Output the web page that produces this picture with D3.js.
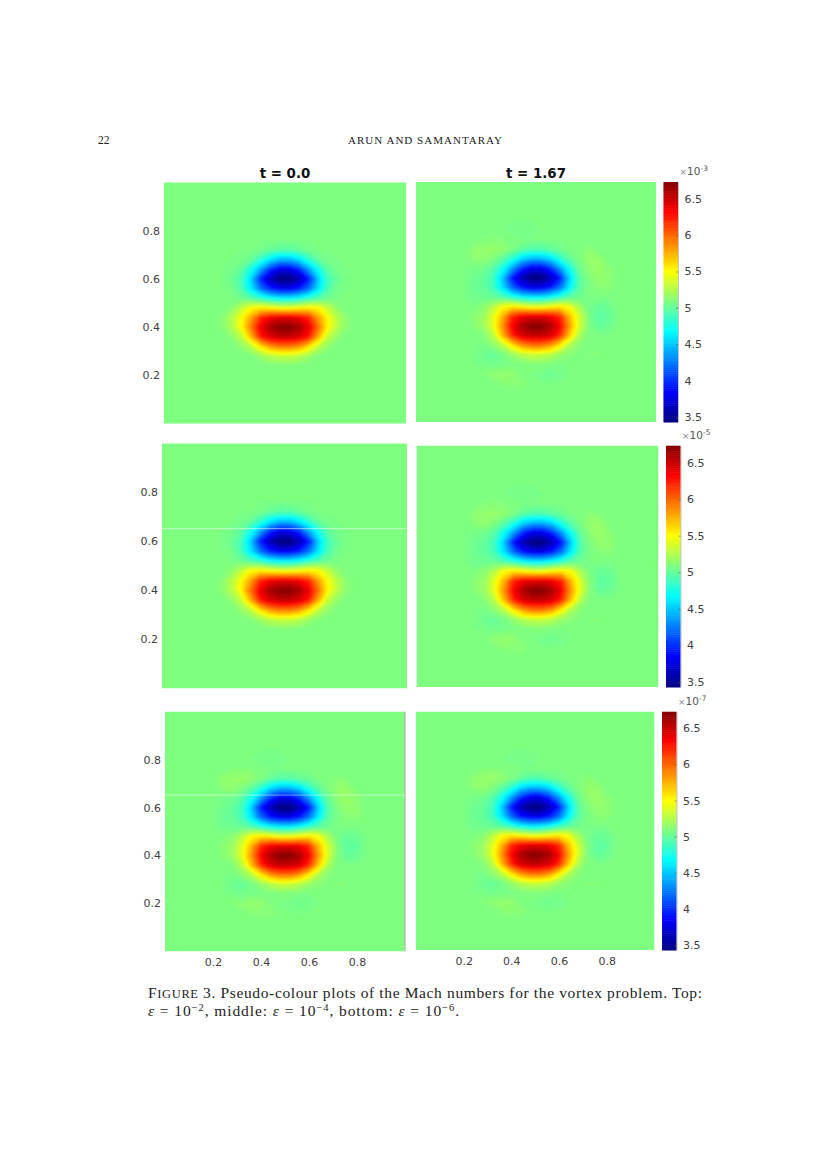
<!DOCTYPE html>
<html>
<head>
<meta charset="utf-8">
<script src="https://cdn.jsdelivr.net/npm/d3@7"></script>
<style>
  html, body { margin: 0; padding: 0; background: #fff; }
  svg { display: block; }
  .tick text { font-family: "DejaVu Sans"; font-size: 11px; fill: #404040; }
  .serif { font-family: "Liberation Serif"; fill: #222; }
</style>
</head>
<body>
<svg id="page" width="827" height="1169"></svg>
<script>
// values, mantissa of the Mach number
const g = 5.08
const gridU = [.16, .20, .24, .28, .32, .36, .40, .44, .48, .52, .56, .60, .64, .68, .72, .76, .80, .84]
const gridV = [.84, .80, .76, .72, .68, .64, .60, .56, .52, .48, .44, .40, .36, .32, .28, .24, .20, .16, .12]

const machInitial = [
  [g, g, g, g, g, g, g, g, g, g, g, g, g, g, g, g, g, g],
  [g, g, g, g, g, g, g, g, g, g, g, g, g, g, g, g, g, g],
  [g, g, g, g, g, g, g, g, g, g, g, g, g, g, g, g, g, g],
  [g, g, g, g, g, g, 5.06, 5.01, 4.96, 4.96, 5.01, 5.06, g, g, g, g, g, g],
  [g, g, g, g, 5.07, 5.01, 4.83, 4.6, 4.45, 4.45, 4.6, 4.83, 5.01, 5.07, g, g, g, g],
  [g, g, g, 5.06, 4.99, 4.75, 4.4, 4.0, 3.78, 3.78, 4.0, 4.4, 4.75, 4.99, 5.06, g, g, g],
  [g, g, g, 5.03, 4.92, 4.55, 3.96, 3.62, 3.43, 3.43, 3.62, 3.96, 4.55, 4.92, 5.03, g, g, g],
  [g, g, g, 5.06, 4.93, 4.62, 4.22, 3.95, 3.82, 3.82, 3.95, 4.22, 4.62, 4.93, 5.06, g, g, g],
  [g, g, g, g, 5.04, 4.95, 4.85, 4.72, 4.65, 4.65, 4.72, 4.85, 4.95, 5.04, g, g, g, g],
  [g, g, g, 5.14, 5.3, 5.5, 5.55, 5.5, 5.45, 5.45, 5.5, 5.55, 5.5, 5.3, 5.14, g, g, g],
  [g, g, 5.12, 5.25, 5.48, 5.8, 6.2, 6.36, 6.42, 6.42, 6.36, 6.2, 5.8, 5.48, 5.25, 5.12, g, g],
  [g, g, 5.12, 5.25, 5.5, 5.95, 6.38, 6.62, 6.73, 6.73, 6.62, 6.38, 5.95, 5.5, 5.25, 5.12, g, g],
  [g, g, g, 5.14, 5.3, 5.75, 6.25, 6.45, 6.52, 6.52, 6.45, 6.25, 5.75, 5.3, 5.14, g, g, g],
  [g, g, g, g, 5.15, 5.3, 5.6, 5.85, 5.95, 5.95, 5.85, 5.6, 5.3, 5.15, g, g, g, g],
  [g, g, g, g, g, 5.1, 5.18, 5.28, 5.32, 5.32, 5.28, 5.18, 5.1, g, g, g, g, g],
  [g, g, g, g, g, g, g, 5.09, 5.1, 5.1, 5.09, g, g, g, g, g, g, g],
  [g, g, g, g, g, g, g, g, g, g, g, g, g, g, g, g, g, g],
  [g, g, g, g, g, g, g, g, g, g, g, g, g, g, g, g, g, g],
  [g, g, g, g, g, g, g, g, g, g, g, g, g, g, g, g, g, g]
]

const machEvolved = [
  [g, g, g, g, g, g, g, g, g, g, g, g, g, g, g, g, g, g],
  [g, g, g, g, g, g, 5.07, 5.05, 5.07, g, g, g, g, g, g, g, g, g],
  [g, g, 5.09, 5.11, 5.11, 5.11, 5.09, g, g, g, g, g, g, g, g, g, g, g],
  [g, 5.09, 5.14, 5.16, 5.17, 5.15, 5.09, 5.0, 4.95, 4.95, 5.0, 5.04, g, 5.09, 5.13, 5.1, g, g],
  [g, g, 5.13, 5.15, 5.1, 4.98, 4.8, 4.56, 4.44, 4.44, 4.56, 4.8, 4.98, g, 5.16, 5.16, 5.09, g],
  [g, g, 5.06, 5.05, 4.96, 4.74, 4.38, 4.0, 3.78, 3.78, 4.0, 4.36, 4.74, 5.02, 5.14, 5.18, 5.13, 5.09],
  [g, g, 5.04, 5.01, 4.9, 4.52, 3.94, 3.62, 3.43, 3.43, 3.62, 3.94, 4.54, 4.97, 5.1, 5.16, 5.14, 5.09],
  [g, g, 5.03, 5.0, 4.9, 4.6, 4.2, 3.92, 3.8, 3.8, 3.94, 4.22, 4.65, 4.97, g, 5.12, 5.13, g],
  [g, g, 5.04, 5.03, 5.01, 4.94, 4.82, 4.7, 4.63, 4.63, 4.72, 4.85, 4.97, 5.04, g, g, g, g],
  [g, g, 5.09, 5.13, 5.27, 5.5, 5.58, 5.52, 5.45, 5.45, 5.52, 5.58, 5.48, 5.22, 5.06, 5.01, 5.03, g],
  [g, g, 5.13, 5.18, 5.4, 5.75, 6.2, 6.38, 6.42, 6.42, 6.38, 6.2, 5.72, 5.36, 5.09, 4.98, 5.0, g],
  [g, g, 5.12, 5.18, 5.42, 5.85, 6.34, 6.6, 6.73, 6.73, 6.6, 6.34, 5.82, 5.38, 5.09, 5.0, 5.03, g],
  [g, g, g, 5.11, 5.27, 5.72, 6.2, 6.45, 6.52, 6.52, 6.45, 6.2, 5.68, 5.24, g, g, g, g],
  [g, g, g, 5.07, 5.14, 5.28, 5.58, 5.85, 5.97, 5.97, 5.85, 5.55, 5.25, 5.12, g, g, g, g],
  [g, g, g, 5.03, 5.01, 5.06, 5.16, 5.27, 5.33, 5.32, 5.27, 5.17, 5.12, 5.1, 5.11, 5.11, g, g],
  [g, g, g, 5.07, 5.05, 5.06, g, g, 5.1, 5.1, 5.09, g, g, g, g, g, g, g],
  [g, g, g, 5.11, 5.14, 5.16, 5.15, 5.1, g, 5.06, 5.03, 5.06, g, g, g, g, g, g],
  [g, g, g, g, 5.09, 5.12, 5.13, 5.13, 5.09, g, g, g, g, g, g, g, g, g],
  [g, g, g, g, g, g, g, g, g, g, g, g, g, g, g, g, g, g]
]

const axisTicks = [0.2, 0.4, 0.6, 0.8]
const barTicks = [3.5, 4, 4.5, 5, 5.5, 6, 6.5]
const barRange = [3.43, 6.73]
const exponents = ["-3", "-5", "-7"]
const titles = ["t = 0.0", "t = 1.67"]
const seamV = 0.652

// panels as laid out on the page
const panels = [
  {x: [164, 406], y: [423.4, 182.6], field: machInitial, row: 0, col: 0},
  {x: [416, 656], y: [422, 182], field: machEvolved, row: 0, col: 1},
  {x: [162, 407], y: [688.3, 443.4], field: machInitial, row: 1, col: 0, seam: 0.55},
  {x: [416.7, 658.3], y: [687, 445.7], field: machEvolved, row: 1, col: 1},
  {x: [165, 405], y: [951.3, 711.7], field: machEvolved, row: 2, col: 0, seam: 0.45, edge: true},
  {x: [416, 654.3], y: [950, 711.7], field: machEvolved, row: 2, col: 1}
]
const bars = [
  {x: 663.5, w: 14.5, y: [422, 182]},
  {x: 666, w: 14.5, y: [687, 445.7]},
  {x: 662, w: 14.5, y: [950, 711.7]}
]

const svg = d3.select("#page")

// matlab jet
const jet = d3.scaleLinear()
  .domain([0, .125, .375, .625, .875, 1])
  .range(["#000080", "#0000ff", "#00ffff", "#ffff00", "#ff0000", "#800000"])
const toUnit = d3.scaleLinear().domain(barRange).range([0, 1])
const colour = v => jet(toUnit(v))

const nLevels = 128
const levels = d3.range(nLevels).map(i => barRange[0] + (barRange[1] - barRange[0]) * i / nLevels - 1e-6)

const nx = gridU.length
const ny = gridV.length
const contours = d3.contours().size([nx, ny]).thresholds(levels)

const defs = svg.append("defs")
defs.append("filter").attr("id", "soft")
  .attr("x", "0%").attr("y", "0%").attr("width", "100%").attr("height", "100%")
  .append("feGaussianBlur").attr("stdDeviation", 1.2)

panels.forEach((p, i) => {
  const xScale = d3.scaleLinear().domain([0, 1]).range(p.x)
  const yScale = d3.scaleLinear().domain([0, 1]).range(p.y)
  const gp = svg.append("g")

  defs.append("clipPath").attr("id", "panel" + i)
    .append("rect")
    .attr("x", p.x[0]).attr("y", p.y[1])
    .attr("width", p.x[1] - p.x[0]).attr("height", p.y[0] - p.y[1])

  // contour coordinates have the samples at cell centres
  const cx = d3.scaleLinear().domain([0.5, nx - 0.5]).range([xScale(gridU[0]), xScale(gridU[nx - 1])])
  const cy = d3.scaleLinear().domain([0.5, ny - 0.5]).range([yScale(gridV[0]), yScale(gridV[ny - 1])])
  const path = d3.geoPath(d3.geoTransform({
    point: function(x, y) { this.stream.point(cx(x), cy(y)) }
  }))

  // background goes inside the blurred group, crisp edges stop the stacked
  // low levels leaving a line round the contour window
  const field = gp.append("g").attr("clip-path", "url(#panel" + i + ")")
    .append("g").attr("filter", "url(#soft)")
  field.append("rect")
    .attr("x", p.x[0] - 10).attr("y", p.y[1] - 10)
    .attr("width", p.x[1] - p.x[0] + 20).attr("height", p.y[0] - p.y[1] + 20)
    .attr("fill", colour(g))
  field.selectAll("path")
    .data(contours(p.field.flat()))
    .enter()
    .append("path")
    .attr("d", path)
    .attr("shape-rendering", "crispEdges")
    .attr("fill", d => colour(d.value))

  if (p.edge) {
    gp.append("line")
      .attr("x1", p.x[1]).attr("x2", p.x[1])
      .attr("y1", p.y[0]).attr("y2", p.y[1])
      .attr("stroke", "#aaa").attr("stroke-width", 1)
  }
  if (p.seam) {
    gp.append("line")
      .attr("x1", p.x[0]).attr("x2", p.x[1])
      .attr("y1", yScale(seamV)).attr("y2", yScale(seamV))
      .attr("stroke", "#fff").attr("stroke-opacity", p.seam).attr("stroke-width", 1)
  }

  if (p.col === 0) {
    gp.append("g")
      .attr("transform", "translate(" + p.x[0] + ",0)")
      .call(d3.axisLeft(yScale).tickValues(axisTicks).tickFormat(d3.format(".1f")).tickSize(0).tickPadding(4))
      .select(".domain").remove()
  }
  if (p.row === 2) {
    gp.append("g")
      .attr("transform", "translate(0," + p.y[0] + ")")
      .call(d3.axisBottom(xScale).tickValues(axisTicks).tickFormat(d3.format(".1f")).tickSize(0).tickPadding(7))
      .select(".domain").remove()
  }
  if (p.row === 0) {
    svg.append("text")
      .attr("x", (p.x[0] + p.x[1]) / 2)
      .attr("y", 177.5)
      .attr("text-anchor", "middle")
      .style("font-family", "DejaVu Sans")
      .style("font-weight", "bold")
      .style("font-size", "13.4px")
      .style("fill", "#111")
      .text(titles[p.col])
  }
})

// colour bars
bars.forEach((b, i) => {
  const yBar = d3.scaleLinear().domain(barRange).range(b.y)
  const gb = svg.append("g")
  gb.selectAll("rect")
    .data(levels)
    .enter()
    .append("rect")
    .attr("x", b.x)
    .attr("width", b.w)
    .attr("y", d => yBar(d + (barRange[1] - barRange[0]) / nLevels))
    .attr("height", Math.abs(yBar(barRange[0]) - yBar(barRange[0] + (barRange[1] - barRange[0]) / nLevels)) + 0.5)
    .attr("fill", d => colour(d))

  const ax = gb.append("g")
    .attr("transform", "translate(" + (b.x + b.w) + ",0)")
    .call(d3.axisRight(yBar)
      .tickValues(barTicks)
      .tickFormat(d => String(d))
      .tickSizeInner(-2)
      .tickSizeOuter(0)
      .tickPadding(6.5))
  ax.select(".domain").attr("stroke", "#999").attr("stroke-width", 0.6)
  ax.selectAll(".tick line").attr("stroke", "#555").attr("stroke-width", 0.6)

  const label = svg.append("text")
    .attr("x", b.x + 16)
    .attr("y", b.y[1] - 7)
    .style("font-family", "DejaVu Sans")
    .style("fill", "#555")
  label.append("tspan").style("font-size", "9px").style("fill", "#888").text("×")
  label.append("tspan").style("font-size", "10.5px").text("10")
  label.append("tspan").attr("dy", -4).style("font-size", "7.5px").text(exponents[i])
})

// page furniture
svg.append("text").attr("class", "serif").attr("x", 98).attr("y", 143.5)
  .style("font-size", "11.5px").text("22")
svg.append("text").attr("class", "serif").attr("x", 348).attr("y", 143.5)
  .attr("textLength", 154).attr("lengthAdjust", "spacing")
  .style("font-size", "11px").text("ARUN AND SAMANTARAY")

const cap1 = svg.append("text").attr("class", "serif").attr("x", 148).attr("y", 998)
  .attr("textLength", 554).attr("lengthAdjust", "spacing")
  .style("font-size", "15.5px")
cap1.append("tspan").text("F")
cap1.append("tspan").style("font-size", "12.5px").text("IGURE")
cap1.append("tspan").text(" 3.  Pseudo-colour plots of the Mach numbers for the vortex problem. Top:")

const cap2 = svg.append("text").attr("class", "serif").attr("x", 148).attr("y", 1016)
  .attr("textLength", 311).attr("lengthAdjust", "spacing")
  .style("font-size", "15.5px")
function power(sel, exp, rest) {
  sel.append("tspan").style("font-style", "italic").text("ε")
  sel.append("tspan").text(" = 10")
  sel.append("tspan").attr("dy", -5).style("font-size", "10.5px").text(exp)
  sel.append("tspan").attr("dy", 5).text(rest)
}
power(cap2, "−2", ", middle: ")
power(cap2, "−4", ", bottom: ")
power(cap2, "−6", ".")
</script>
</body>
</html>
